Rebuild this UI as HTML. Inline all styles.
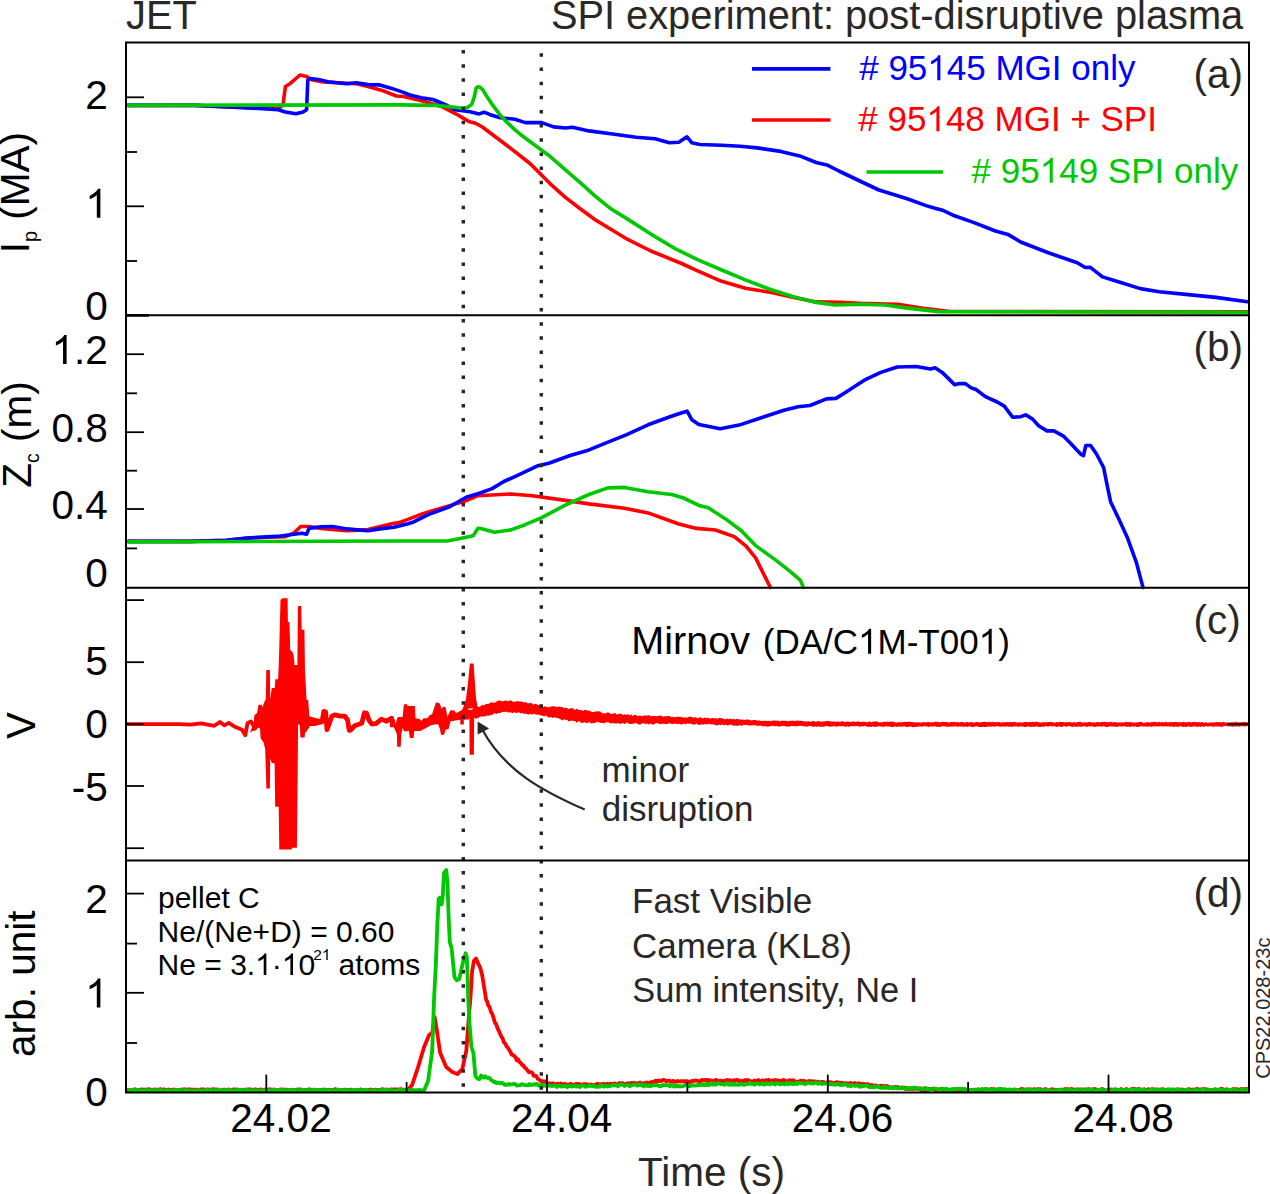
<!DOCTYPE html>
<html><head><meta charset="utf-8"><style>
html,body{margin:0;padding:0;background:#fff;overflow:hidden;width:1270px;height:1194px;}
svg{display:block;}
text{font-family:"Liberation Sans",sans-serif;}
</style></head><body>
<svg width="1270" height="1194" viewBox="0 0 1270 1194">
<rect width="1270" height="1194" fill="#fff"/>
<polyline points="128.0,105.4 195.6,105.4 240.0,107.5 278.3,108.5 283.0,105.0 285.4,86.5 290.0,83.7 300.0,75.0 306.6,76.6 311.4,79.7 323.2,82.0 356.2,83.7 368.0,86.5 384.6,91.3 396.4,96.0 403.5,96.5 423.6,101.3 442.5,106.8 456.7,114.3 468.5,121.4 475.6,123.3 482.7,127.3 506.3,145.0 530.0,163.5 550.0,183.6 565.1,197.1 580.2,208.7 595.2,219.7 610.0,228.8 627.2,239.2 650.9,251.0 681.6,263.5 698.1,271.2 721.7,281.3 745.4,288.2 773.7,292.9 792.6,297.2 816.2,301.9 839.9,302.4 860.0,303.4 897.8,304.3 923.0,308.4 948.2,311.3 1248.0,311.9" fill="none" stroke="#ff0000" stroke-width="3.6" stroke-linejoin="round" stroke-linecap="round"/>
<polyline points="128.0,105.4 195.6,105.4 240.0,107.5 278.3,109.7 285.4,112.0 296.0,113.7 303.0,112.0 306.6,109.7 307.8,80.2 310.0,78.5 318.4,79.5 327.9,81.8 346.8,83.7 356.2,82.8 368.0,84.6 379.9,84.9 391.7,88.4 403.5,92.4 410.0,95.0 421.3,97.8 433.0,99.5 447.2,105.5 455.0,109.7 470.1,111.7 479.1,113.9 484.1,112.2 490.2,114.7 500.2,117.7 515.0,119.2 525.2,122.6 541.7,122.6 553.6,126.9 565.4,128.0 572.5,127.3 589.0,130.9 612.6,134.0 636.2,137.2 655.1,138.7 669.3,142.7 678.8,142.2 687.0,136.8 691.7,142.7 700.0,144.5 721.7,145.3 740.0,146.3 757.2,147.9 780.8,151.4 799.7,155.9 816.2,162.5 826.9,164.9 839.9,171.5 858.8,180.5 878.9,190.0 907.2,198.8 926.1,205.6 935.0,208.3 943.5,210.6 954.5,215.8 973.4,222.4 995.4,231.0 1008.0,234.4 1020.6,242.0 1049.0,253.0 1077.3,262.8 1085.2,267.5 1090.0,267.2 1102.5,276.9 1118.3,281.7 1140.3,288.6 1159.2,291.7 1190.7,294.9 1215.9,297.4 1247.4,301.8" fill="none" stroke="#0000ff" stroke-width="3.6" stroke-linejoin="round" stroke-linecap="round"/>
<polyline points="128.0,105.4 400.0,104.9 435.4,105.4 455.0,107.2 462.5,108.4 467.6,107.2 471.6,104.6 474.1,97.6 476.1,88.1 477.6,86.8 480.1,87.3 483.1,90.1 487.2,97.1 492.7,105.2 500.2,115.2 507.8,123.2 515.0,129.8 520.2,134.2 530.2,141.7 540.3,149.2 550.0,156.3 566.6,170.8 580.2,182.6 595.2,196.1 610.0,208.2 627.2,218.9 650.9,234.1 674.5,248.3 698.1,259.9 721.7,270.0 745.4,279.9 769.0,288.9 792.6,296.5 816.2,302.4 835.1,305.0 860.0,304.3 885.2,305.0 907.2,308.1 938.7,311.6 1248.0,312.2" fill="none" stroke="#00c800" stroke-width="3.6" stroke-linejoin="round" stroke-linecap="round"/>
<polyline points="128.3,541.4 190.9,541.4 226.3,540.2 249.9,537.9 285.4,536.7 293.6,533.2 300.7,526.5 309.0,526.5 320.8,528.4 346.8,530.8 368.0,529.6 391.7,523.7 400.0,522.4 423.6,513.4 449.6,505.6 463.8,501.6 478.0,495.7 511.0,494.0 532.3,495.7 565.4,500.4 589.0,503.9 624.4,508.2 648.0,512.9 678.8,524.0 696.5,528.4 715.4,530.0 734.3,536.6 746.1,546.1 755.6,557.9 769.8,586.2 770.5,587.5" fill="none" stroke="#ff0000" stroke-width="3.6" stroke-linejoin="round" stroke-linecap="round"/>
<polyline points="128.3,541.4 190.9,541.4 226.3,540.2 249.9,537.9 280.6,536.0 301.9,533.2 306.6,534.3 309.0,528.4 320.8,526.8 332.6,526.5 346.8,528.9 368.0,530.8 379.9,528.9 394.0,527.2 408.2,523.7 414.2,521.7 428.3,514.6 449.6,506.8 466.1,497.3 478.0,493.8 492.1,488.6 503.9,481.5 518.1,475.1 537.0,466.1 548.8,463.3 570.1,455.5 586.6,450.8 605.5,443.2 626.8,434.7 648.0,424.8 669.3,417.0 681.1,413.0 687.1,411.2 691.8,419.7 698.9,424.4 720.2,428.7 739.1,425.1 762.7,417.3 783.9,410.2 798.1,406.7 809.9,405.5 826.5,398.9 835.9,398.4 845.4,392.5 864.3,380.2 880.8,372.4 897.3,367.0 916.2,366.5 930.4,368.9 935.1,367.7 942.2,372.4 950.0,380.1 954.7,384.8 959.4,383.6 965.4,383.6 971.3,387.9 976.0,389.5 985.4,396.6 997.2,402.0 1004.3,406.1 1012.6,417.2 1020.9,416.7 1025.6,414.8 1032.7,419.1 1038.6,425.7 1046.9,430.9 1053.9,430.9 1063.4,436.1 1070.5,443.2 1081.1,454.5 1083.5,455.7 1085.8,445.5 1090.6,445.5 1096.5,454.0 1103.6,467.5 1107.1,485.2 1110.6,501.7 1120.1,521.8 1127.2,537.2 1136.6,563.2 1142.5,585.6 1143.0,587.5" fill="none" stroke="#0000ff" stroke-width="3.6" stroke-linejoin="round" stroke-linecap="round"/>
<polyline points="128.3,541.9 400.0,541.0 447.2,541.0 461.4,538.2 473.2,535.8 478.0,528.3 481.5,528.7 494.5,532.3 511.0,529.9 525.2,524.7 541.7,517.6 565.4,505.1 589.0,494.5 607.9,487.9 624.4,487.4 648.0,491.7 671.7,494.5 683.5,498.0 700.0,505.8 708.3,507.8 727.2,520.1 741.4,530.7 755.6,545.6 774.5,559.1 791.0,572.1 800.5,580.3 802.8,586.2 803.2,587.5" fill="none" stroke="#00c800" stroke-width="3.6" stroke-linejoin="round" stroke-linecap="round"/>
<polyline points="127.0,724.2 179.1,724.2 190.2,724.7 201.2,723.3 214.4,725.8 219.9,722.0 224.3,725.3 228.7,722.9 234.3,726.4 242.0,729.7 245.3,735.2 247.5,723.1 250.8,721.4 254.1,726.4" fill="none" stroke="#ff0000" stroke-width="3.8" stroke-linejoin="round" stroke-linecap="round"/>
<polygon points="253.8,722.0 254.4,715.2 257.1,713.0 258.5,704.8 261.8,704.8 262.5,707.6 263.6,703.8 265.8,698.9 266.3,670.0 269.9,670.0 270.1,698.9 271.8,688.0 274.8,688.0 275.3,679.3 278.1,679.3 278.8,664.0 279.4,642.3 280.5,599.8 282.7,598.2 287.6,598.2 287.9,622.1 289.4,622.1 290.3,650.4 291.9,651.0 293.5,654.2 294.6,665.1 297.4,665.1 297.9,606.1 301.2,606.1 301.7,629.7 304.4,629.7 305.0,671.6 306.6,700.0 308.2,700.0 309.3,716.3 315.3,717.9 320.0,719.0 320.0,724.1 315.7,725.9 309.8,725.9 308.6,728.8 305.7,729.4 304.5,737.6 300.4,737.6 299.8,725.3 298.1,724.1 297.5,790.3 296.9,847.8 292.2,847.8 291.6,849.6 279.3,849.6 278.7,806.8 275.2,806.8 274.6,763.4 271.7,762.8 270.2,758.7 269.9,788.6 266.4,788.6 265.2,749.3 263.5,742.3 260.6,738.2 260.0,728.2 258.2,727.6 255.9,730.6 252.3,731.1 250.0,732.9" fill="#ff0000"/>
<polyline points="305.0,729.7 307.1,721.9 312.1,721.9 317.8,722.6 322.0,721.9 323.8,711.3 325.6,712.0 327.0,729.7 329.1,724.0 331.9,716.2 334.8,714.8 340.4,716.2 344.7,716.2 347.5,719.8 349.3,730.4 351.1,729.7 354.6,725.8 361.7,723.3 364.5,712.7 366.7,713.4 368.8,719.8 371.6,724.0 375.9,723.7 381.5,719.1 386.5,721.2 391.5,718.3 393.0,722.0" fill="none" stroke="#ff0000" stroke-width="4.8" stroke-linejoin="round" stroke-linecap="round"/>
<polygon points="390.0,716.5 393.1,716.5 395.7,724.0 397.6,717.1 402.6,717.1 403.9,704.2 407.0,704.2 407.6,706.1 414.9,706.1 415.5,718.3 419.6,719.0 421.5,720.9 423.4,718.3 427.2,718.3 429.7,715.2 432.2,713.9 436.0,702.3 439.8,703.5 441.7,708.9 443.2,706.7 445.7,707.3 447.3,717.1 450.5,710.2 454.3,710.5 456.8,714.6 460.6,711.4 465.6,704.5 468.1,700.0 468.7,719.6 460.6,719.6 456.8,720.2 453.0,720.9 450.5,721.5 448.6,729.1 445.4,729.7 444.2,734.7 441.0,734.7 439.8,728.4 437.9,724.0 430.9,725.3 426.5,727.8 420.2,730.9 414.3,730.9 413.6,737.9 409.8,737.9 408.9,730.9 404.2,731.6 402.6,727.8 401.3,735.4 400.7,746.7 397.2,746.7 396.9,734.1 393.8,727.2 390.0,727.2" fill="#ff0000"/>
<polygon points="455.0,712.5 456.6,712.7 458.2,712.2 459.8,711.0 461.4,710.7 463.0,710.4 464.6,710.6 466.2,709.7 467.8,710.3 469.4,709.8 471.0,710.0 472.6,709.3 474.2,707.5 475.8,707.3 477.4,706.6 479.0,706.9 480.6,706.2 482.2,704.8 483.8,705.4 485.4,704.2 487.0,704.0 488.6,704.0 490.2,702.5 491.8,702.5 493.4,702.5 495.0,702.7 496.6,701.4 498.2,700.7 499.8,700.3 501.4,701.3 503.0,701.3 504.6,700.7 506.2,700.5 507.8,701.2 509.4,700.8 511.0,700.3 512.6,701.5 514.2,702.1 515.8,701.5 517.4,701.1 519.0,701.5 520.6,701.5 522.2,701.8 523.8,702.4 525.4,702.0 527.0,703.0 528.6,703.6 530.2,702.8 531.8,703.3 533.4,704.8 535.0,703.7 536.6,704.2 538.2,705.2 539.8,704.5 541.4,705.5 543.0,707.0 544.6,706.3 546.2,706.7 547.8,707.3 549.4,707.3 551.0,706.6 552.6,706.2 554.2,706.3 555.8,706.7 557.4,707.0 559.0,706.6 560.6,706.9 562.2,706.9 563.8,708.1 565.4,707.7 567.0,708.1 568.6,709.1 570.2,708.6 571.8,708.1 573.4,708.8 575.0,709.9 576.6,708.6 578.2,709.7 579.8,709.9 581.4,710.1 583.0,710.9 584.6,709.9 586.2,710.0 587.8,710.8 589.4,710.6 591.0,711.7 592.6,711.9 594.2,712.0 595.8,711.2 597.4,711.6 599.0,711.2 600.6,711.8 602.2,713.2 603.8,713.3 605.4,713.6 607.0,712.4 608.6,712.5 610.2,713.4 611.8,713.9 613.4,713.7 615.0,712.8 616.6,714.4 618.2,714.3 619.8,713.4 621.4,713.8 623.0,715.1 624.6,714.2 626.2,714.9 627.8,714.0 629.4,715.5 631.0,714.3 632.6,715.9 634.2,714.9 635.8,714.7 637.4,716.3 639.0,715.7 640.6,715.6 642.2,716.3 643.8,715.4 645.4,715.4 647.0,715.5 648.6,715.3 650.2,715.7 651.8,716.2 653.4,715.9 655.0,716.1 656.6,716.2 658.2,716.1 659.8,715.4 661.4,715.8 663.0,716.7 664.6,716.1 666.2,716.5 667.8,715.9 669.4,716.1 671.0,717.0 672.6,716.7 674.2,717.3 675.8,716.9 677.4,716.8 679.0,716.7 680.6,716.8 682.2,717.2 683.8,717.7 685.4,717.2 687.0,717.7 688.6,716.7 690.2,716.7 691.8,716.7 693.4,717.9 695.0,717.0 696.6,717.8 698.2,718.2 699.8,717.3 701.4,717.7 703.0,718.6 704.6,717.5 706.2,718.1 707.8,717.7 709.4,718.5 711.0,718.4 712.6,717.7 714.2,718.6 715.8,717.9 717.4,719.0 719.0,718.1 720.6,718.1 722.2,718.5 723.8,718.8 725.4,719.4 727.0,718.6 728.6,719.2 730.2,718.6 731.8,719.5 733.4,718.8 735.0,719.6 736.6,718.9 738.2,719.0 739.8,719.6 741.4,719.8 743.0,719.5 744.6,719.9 746.2,719.4 747.8,719.4 749.4,719.8 751.0,720.5 752.6,720.2 754.2,720.1 755.8,720.1 757.4,720.7 759.0,720.2 760.6,721.1 762.2,721.1 763.8,720.8 765.4,720.7 767.0,721.1 768.6,720.7 770.2,721.2 771.8,720.8 773.4,720.4 775.0,720.5 776.6,720.7 778.2,720.5 779.8,721.4 781.4,720.8 783.0,720.8 784.6,720.7 786.2,720.8 787.8,721.6 789.4,720.8 791.0,720.9 792.6,720.6 794.2,721.1 795.8,720.8 797.4,720.6 799.0,720.7 800.6,720.7 802.2,721.0 803.8,721.3 805.4,721.5 807.0,721.5 808.6,721.2 810.2,721.8 811.8,721.6 813.4,720.8 815.0,721.8 816.6,721.6 818.2,721.0 819.8,721.4 821.4,721.7 823.0,721.5 824.6,721.6 826.2,721.1 827.8,721.0 829.4,721.0 831.0,721.5 832.6,721.6 834.2,721.5 835.8,721.8 837.4,721.5 839.0,721.7 840.6,721.8 842.2,721.1 843.8,721.8 845.4,721.9 847.0,721.6 848.6,721.6 850.2,721.9 851.8,721.8 853.4,721.3 855.0,722.0 856.6,721.8 858.2,721.3 859.8,721.9 861.4,721.9 863.0,721.8 864.6,721.7 866.2,722.2 867.8,722.3 869.4,721.3 871.0,722.2 872.6,721.8 874.2,721.6 875.8,721.6 877.4,721.5 879.0,722.4 880.6,722.3 882.2,722.3 883.8,721.7 885.4,722.0 887.0,721.5 888.6,721.9 890.2,721.6 891.8,721.8 893.4,721.5 895.0,722.4 896.6,722.5 898.2,722.5 899.8,722.0 901.4,722.6 903.0,722.0 904.6,721.9 906.2,721.7 907.8,721.9 909.4,721.8 911.0,722.1 912.6,722.0 914.2,722.5 915.8,722.2 917.4,722.6 919.0,722.3 920.6,722.4 922.2,722.4 923.8,721.9 925.4,722.6 927.0,722.1 928.6,721.9 930.2,722.6 931.8,722.3 933.4,722.2 935.0,721.8 936.6,721.8 938.2,722.1 939.8,722.5 941.4,722.1 943.0,721.8 944.6,722.0 946.2,721.9 947.8,722.2 949.4,722.4 951.0,722.0 952.6,722.0 954.2,721.7 955.8,722.6 957.4,722.1 959.0,722.5 960.6,721.9 962.2,722.0 963.8,722.6 965.4,722.5 967.0,721.7 968.6,722.5 970.2,722.2 971.8,722.0 973.4,722.5 975.0,722.6 976.6,721.7 978.2,722.2 979.8,722.6 981.4,722.3 983.0,722.1 984.6,721.7 986.2,721.9 987.8,722.3 989.4,721.8 991.0,722.3 992.6,721.8 994.2,722.2 995.8,722.0 997.4,722.3 999.0,722.0 1000.6,722.6 1002.2,722.5 1003.8,721.9 1005.4,722.6 1007.0,722.0 1008.6,722.2 1010.2,722.1 1011.8,722.3 1013.4,721.9 1015.0,722.0 1016.6,722.4 1018.2,722.5 1019.8,722.2 1021.4,722.6 1023.0,722.5 1024.6,721.9 1026.2,722.0 1027.8,722.2 1029.4,721.9 1031.0,722.3 1032.6,721.8 1034.2,721.9 1035.8,721.8 1037.4,721.7 1039.0,722.6 1040.6,722.4 1042.2,722.6 1043.8,721.9 1045.4,722.4 1047.0,722.3 1048.6,722.1 1050.2,721.9 1051.8,722.0 1053.4,722.6 1055.0,722.7 1056.6,722.0 1058.2,722.5 1059.8,721.7 1061.4,722.1 1063.0,721.9 1064.6,722.6 1066.2,722.1 1067.8,722.5 1069.4,721.7 1071.0,722.6 1072.6,722.4 1074.2,722.0 1075.8,722.7 1077.4,722.0 1079.0,722.0 1080.6,721.7 1082.2,722.6 1083.8,722.6 1085.4,721.9 1087.0,722.7 1088.6,722.1 1090.2,722.1 1091.8,722.6 1093.4,722.5 1095.0,722.5 1096.6,722.3 1098.2,722.0 1099.8,722.5 1101.4,721.9 1103.0,722.0 1104.6,721.8 1106.2,722.0 1107.8,722.6 1109.4,722.0 1111.0,721.8 1112.6,722.4 1114.2,722.0 1115.8,722.3 1117.4,722.5 1119.0,722.4 1120.6,722.6 1122.2,722.3 1123.8,722.5 1125.4,722.0 1127.0,721.9 1128.6,722.3 1130.2,722.1 1131.8,722.2 1133.4,722.5 1135.0,722.7 1136.6,722.2 1138.2,722.6 1139.8,721.8 1141.4,721.9 1143.0,722.7 1144.6,722.7 1146.2,722.6 1147.8,722.0 1149.4,722.7 1151.0,722.3 1152.6,722.0 1154.2,721.9 1155.8,722.0 1157.4,722.4 1159.0,721.8 1160.6,722.4 1162.2,722.1 1163.8,722.5 1165.4,721.8 1167.0,722.2 1168.6,722.4 1170.2,721.9 1171.8,722.2 1173.4,722.1 1175.0,722.1 1176.6,722.1 1178.2,722.6 1179.8,722.1 1181.4,722.5 1183.0,721.8 1184.6,722.2 1186.2,722.2 1187.8,722.2 1189.4,721.8 1191.0,722.4 1192.6,721.9 1194.2,722.1 1195.8,721.9 1197.4,722.3 1199.0,721.9 1200.6,722.6 1202.2,722.0 1203.8,722.7 1205.4,722.3 1207.0,722.7 1208.6,722.7 1210.2,722.6 1211.8,722.6 1213.4,722.2 1215.0,722.6 1216.6,722.0 1218.2,722.3 1219.8,721.9 1221.4,722.5 1223.0,721.8 1224.6,722.5 1226.2,722.6 1227.8,722.4 1229.4,722.4 1231.0,722.2 1232.6,722.2 1234.2,722.2 1235.8,721.8 1237.4,722.3 1239.0,722.5 1240.6,722.3 1242.2,722.3 1243.8,721.9 1245.4,721.9 1247.0,722.3 1248.6,722.4 1248.6,726.1 1247.0,726.1 1245.4,726.4 1243.8,726.4 1242.2,726.1 1240.6,726.2 1239.0,726.8 1237.4,726.3 1235.8,726.6 1234.2,726.4 1232.6,726.7 1231.0,726.6 1229.4,726.3 1227.8,726.6 1226.2,726.1 1224.6,726.1 1223.0,726.6 1221.4,726.9 1219.8,726.3 1218.2,726.4 1216.6,726.4 1215.0,726.2 1213.4,726.9 1211.8,726.3 1210.2,726.2 1208.6,726.6 1207.0,726.4 1205.4,726.1 1203.8,727.0 1202.2,726.2 1200.6,727.0 1199.0,726.5 1197.4,726.9 1195.8,726.3 1194.2,726.5 1192.6,726.6 1191.0,726.9 1189.4,726.6 1187.8,726.2 1186.2,726.9 1184.6,726.8 1183.0,726.9 1181.4,726.3 1179.8,726.2 1178.2,727.0 1176.6,726.5 1175.0,726.6 1173.4,727.0 1171.8,726.3 1170.2,726.7 1168.6,726.2 1167.0,726.6 1165.4,726.2 1163.8,726.6 1162.2,726.3 1160.6,726.2 1159.0,726.4 1157.4,726.3 1155.8,726.6 1154.2,726.3 1152.6,726.4 1151.0,726.7 1149.4,726.2 1147.8,726.8 1146.2,726.5 1144.6,726.4 1143.0,726.6 1141.4,726.3 1139.8,726.4 1138.2,727.0 1136.6,726.9 1135.0,726.2 1133.4,726.7 1131.8,726.3 1130.2,727.0 1128.6,726.4 1127.0,726.9 1125.4,726.3 1123.8,726.3 1122.2,726.4 1120.6,726.4 1119.0,726.2 1117.4,726.9 1115.8,726.7 1114.2,726.5 1112.6,726.5 1111.0,726.6 1109.4,726.2 1107.8,727.1 1106.2,727.1 1104.6,726.6 1103.0,726.2 1101.4,726.8 1099.8,726.2 1098.2,726.5 1096.6,726.4 1095.0,726.9 1093.4,726.8 1091.8,726.3 1090.2,726.6 1088.6,726.3 1087.0,727.0 1085.4,726.6 1083.8,726.1 1082.2,726.7 1080.6,726.8 1079.0,726.4 1077.4,726.8 1075.8,726.7 1074.2,726.4 1072.6,727.0 1071.0,726.4 1069.4,726.2 1067.8,726.1 1066.2,726.9 1064.6,726.1 1063.0,726.5 1061.4,727.0 1059.8,726.6 1058.2,726.5 1056.6,726.9 1055.0,726.3 1053.4,726.2 1051.8,726.5 1050.2,726.1 1048.6,726.4 1047.0,726.5 1045.4,726.1 1043.8,727.1 1042.2,726.4 1040.6,727.1 1039.0,727.0 1037.4,726.5 1035.8,726.2 1034.2,727.1 1032.6,726.5 1031.0,727.1 1029.4,726.5 1027.8,726.3 1026.2,727.1 1024.6,726.9 1023.0,726.4 1021.4,726.4 1019.8,726.3 1018.2,726.9 1016.6,726.3 1015.0,726.6 1013.4,726.2 1011.8,727.1 1010.2,726.4 1008.6,726.8 1007.0,726.2 1005.4,726.8 1003.8,726.4 1002.2,726.6 1000.6,726.8 999.0,726.6 997.4,726.1 995.8,726.4 994.2,726.7 992.6,726.2 991.0,726.8 989.4,726.4 987.8,726.5 986.2,727.1 984.6,726.9 983.0,726.7 981.4,726.9 979.8,726.9 978.2,726.8 976.6,726.3 975.0,726.4 973.4,727.0 971.8,727.1 970.2,726.2 968.6,726.6 967.0,726.9 965.4,726.2 963.8,727.0 962.2,726.6 960.6,726.4 959.0,726.4 957.4,726.8 955.8,726.3 954.2,726.4 952.6,726.5 951.0,726.7 949.4,726.6 947.8,727.1 946.2,726.4 944.6,726.3 943.0,726.3 941.4,726.3 939.8,727.2 938.2,726.4 936.6,727.1 935.0,726.3 933.4,726.6 931.8,726.5 930.2,726.4 928.6,726.9 927.0,726.5 925.4,726.3 923.8,726.2 922.2,726.8 920.6,726.6 919.0,726.2 917.4,726.7 915.8,727.1 914.2,727.0 912.6,727.2 911.0,726.4 909.4,726.5 907.8,727.1 906.2,727.0 904.6,726.2 903.0,726.6 901.4,726.8 899.8,726.6 898.2,726.5 896.6,726.9 895.0,726.3 893.4,726.9 891.8,727.0 890.2,726.5 888.6,726.4 887.0,726.6 885.4,726.1 883.8,727.0 882.2,726.8 880.6,726.6 879.0,726.2 877.4,726.6 875.8,726.7 874.2,727.1 872.6,726.3 871.0,727.1 869.4,726.5 867.8,727.0 866.2,726.2 864.6,726.1 863.0,726.5 861.4,726.3 859.8,726.7 858.2,726.3 856.6,726.0 855.0,726.3 853.4,726.2 851.8,726.0 850.2,726.6 848.6,726.7 847.0,726.3 845.4,727.0 843.8,726.1 842.2,726.2 840.6,726.2 839.0,725.9 837.4,726.5 835.8,726.7 834.2,725.9 832.6,726.6 831.0,726.5 829.4,726.8 827.8,726.2 826.2,725.8 824.6,726.6 823.0,726.8 821.4,726.7 819.8,726.7 818.2,726.4 816.6,726.7 815.0,726.5 813.4,726.7 811.8,726.5 810.2,725.9 808.6,726.1 807.0,726.7 805.4,726.5 803.8,726.3 802.2,726.0 800.6,725.7 799.0,726.1 797.4,726.0 795.8,726.2 794.2,726.2 792.6,726.1 791.0,726.0 789.4,726.7 787.8,726.2 786.2,726.7 784.6,726.1 783.0,726.1 781.4,725.9 779.8,726.4 778.2,726.5 776.6,725.8 775.0,726.4 773.4,725.7 771.8,725.9 770.2,726.3 768.6,726.5 767.0,726.7 765.4,726.1 763.8,726.4 762.2,725.9 760.6,725.5 759.0,725.8 757.4,725.9 755.8,725.2 754.2,725.2 752.6,725.3 751.0,725.4 749.4,725.4 747.8,725.2 746.2,725.1 744.6,725.1 743.0,725.0 741.4,725.9 739.8,725.1 738.2,725.8 736.6,725.7 735.0,725.6 733.4,725.7 731.8,725.0 730.2,724.5 728.6,725.3 727.0,725.5 725.4,724.6 723.8,725.4 722.2,724.3 720.6,725.2 719.0,724.4 717.4,725.4 715.8,725.3 714.2,724.6 712.6,724.3 711.0,724.4 709.4,723.8 707.8,724.2 706.2,724.2 704.6,724.2 703.0,724.8 701.4,724.2 699.8,724.9 698.2,724.8 696.6,723.6 695.0,724.4 693.4,724.6 691.8,724.2 690.2,723.6 688.6,723.8 687.0,723.3 685.4,724.5 683.8,723.4 682.2,724.3 680.6,724.4 679.0,723.8 677.4,724.0 675.8,723.7 674.2,723.6 672.6,724.1 671.0,723.7 669.4,723.3 667.8,723.8 666.2,724.2 664.6,723.7 663.0,723.8 661.4,723.7 659.8,724.2 658.2,723.2 656.6,722.9 655.0,723.8 653.4,724.4 651.8,724.4 650.2,723.6 648.6,724.4 647.0,723.6 645.4,723.9 643.8,723.3 642.2,723.2 640.6,724.4 639.0,724.5 637.4,723.9 635.8,722.7 634.2,723.6 632.6,723.8 631.0,724.0 629.4,724.0 627.8,722.7 626.2,722.7 624.6,724.1 623.0,723.1 621.4,723.7 619.8,723.7 618.2,723.1 616.6,723.6 615.0,723.3 613.4,723.5 611.8,722.9 610.2,723.6 608.6,722.3 607.0,722.3 605.4,722.5 603.8,723.6 602.2,722.7 600.6,723.1 599.0,722.3 597.4,721.8 595.8,722.7 594.2,723.1 592.6,723.2 591.0,723.5 589.4,722.1 587.8,723.0 586.2,723.0 584.6,722.3 583.0,722.8 581.4,723.3 579.8,721.5 578.2,721.4 576.6,722.7 575.0,721.0 573.4,720.9 571.8,720.4 570.2,720.9 568.6,721.6 567.0,719.8 565.4,719.9 563.8,719.3 562.2,720.4 560.6,719.2 559.0,718.5 557.4,717.9 555.8,717.8 554.2,717.3 552.6,717.9 551.0,717.2 549.4,717.6 547.8,717.2 546.2,715.5 544.6,716.2 543.0,716.0 541.4,715.6 539.8,715.1 538.2,714.6 536.6,714.8 535.0,714.1 533.4,713.7 531.8,714.8 530.2,713.8 528.6,714.4 527.0,714.3 525.4,713.4 523.8,714.0 522.2,712.7 520.6,713.5 519.0,712.2 517.4,712.7 515.8,712.9 514.2,712.1 512.6,713.2 511.0,712.5 509.4,712.3 507.8,712.6 506.2,711.6 504.6,711.9 503.0,711.7 501.4,712.5 499.8,713.1 498.2,713.1 496.6,714.0 495.0,713.2 493.4,713.8 491.8,715.3 490.2,715.1 488.6,715.7 487.0,715.4 485.4,716.3 483.8,716.4 482.2,716.4 480.6,716.6 479.0,717.5 477.4,718.2 475.8,718.7 474.2,717.5 472.6,718.0 471.0,717.6 469.4,718.4 467.8,719.6 466.2,718.5 464.6,719.8 463.0,718.7 461.4,719.5 459.8,719.8 458.2,719.7 456.6,719.4 455.0,719.7" fill="#ff0000"/>
<polygon points="462.9,708.5 466.0,699.0 468.2,681.4 469.8,663.4 473.6,663.4 474.8,681.4 476.1,699.0 477.9,708.5" fill="#ff0000"/>
<polygon points="469.4,712.0 469.6,754.8 473.9,754.8 474.2,712.0" fill="#ff0000"/>
<polygon points="460.3,716.0 460.3,724.5 463.8,724.5 463.8,716.0" fill="#ff0000"/>
<polyline points="127.0,1089.9 128.3,1090.1 129.6,1090.2 130.9,1090.3 132.2,1090.1 133.5,1090.3 134.8,1089.2 136.1,1089.8 137.4,1090.3 138.7,1090.0 140.0,1090.3 141.3,1089.3 142.6,1089.8 143.9,1089.5 145.2,1089.9 146.5,1089.9 147.8,1089.2 149.1,1089.5 150.4,1089.5 151.7,1090.3 153.0,1090.1 154.3,1089.4 155.6,1090.2 156.9,1089.4 158.2,1089.9 159.5,1089.4 160.8,1089.2 162.1,1090.2 163.4,1089.5 164.7,1089.5 166.0,1090.4 167.3,1090.2 168.6,1089.5 169.9,1090.4 171.2,1089.8 172.5,1090.0 173.8,1089.4 175.1,1090.3 176.4,1090.0 177.7,1090.4 179.0,1090.3 180.3,1089.6 181.6,1089.6 182.9,1089.4 184.2,1089.4 185.5,1089.3 186.8,1089.6 188.1,1089.9 189.4,1089.2 190.7,1090.0 192.0,1089.6 193.3,1089.6 194.6,1090.2 195.9,1089.8 197.2,1089.6 198.5,1089.8 199.8,1090.0 201.1,1089.3 202.4,1090.4 203.7,1089.2 205.0,1090.1 206.3,1090.2 207.6,1089.2 208.9,1090.1 210.2,1089.6 211.5,1089.9 212.8,1089.2 214.1,1089.3 215.4,1089.4 216.7,1090.3 218.0,1089.4 219.3,1090.1 220.6,1090.3 221.9,1090.3 223.2,1089.6 224.5,1089.6 225.8,1089.8 227.1,1090.1 228.4,1089.3 229.7,1090.1 231.0,1090.2 232.3,1090.2 233.6,1089.2 234.9,1090.3 236.2,1089.3 237.5,1089.6 238.8,1089.9 240.1,1090.3 241.4,1089.6 242.7,1090.3 244.0,1089.9 245.3,1089.6 246.6,1089.6 247.9,1089.4 249.2,1089.3 250.5,1089.4 251.8,1090.0 253.1,1090.4 254.4,1089.4 255.7,1089.3 257.0,1090.4 258.3,1089.8 259.6,1089.7 260.9,1089.5 262.2,1089.9 263.5,1090.2 264.8,1089.7 266.1,1089.7 267.4,1089.3 268.7,1090.3 270.0,1089.2 271.3,1089.8 272.6,1090.2 273.9,1089.4 275.2,1090.1 276.5,1090.3 277.8,1090.0 279.1,1090.1 280.4,1089.3 281.7,1089.7 283.0,1089.4 284.3,1090.2 285.6,1089.6 286.9,1089.7 288.2,1090.4 289.5,1090.2 290.8,1090.4 292.1,1089.7 293.4,1089.8 294.7,1090.1 296.0,1089.8 297.3,1089.5 298.6,1089.7 299.9,1089.4 301.2,1089.7 302.5,1090.4 303.8,1090.4 305.1,1090.0 306.4,1089.8 307.7,1089.6 309.0,1089.3 310.3,1089.5 311.6,1090.1 312.9,1090.2 314.2,1089.6 315.5,1090.1 316.8,1090.1 318.1,1090.0 319.4,1090.0 320.7,1090.1 322.0,1089.6 323.3,1090.0 324.6,1089.5 325.9,1089.8 327.2,1090.1 328.5,1090.0 329.8,1089.6 331.1,1090.3 332.4,1090.0 333.7,1089.9 335.0,1089.2 336.3,1089.9 337.6,1089.5 338.9,1090.0 340.2,1089.8 341.5,1090.2 342.8,1090.0 344.1,1090.2 345.4,1089.6 346.7,1090.0 348.0,1090.1 349.3,1090.2 350.6,1089.6 351.9,1090.2 353.2,1090.2 354.5,1090.0 355.8,1090.4 357.1,1090.3 358.4,1089.8 359.7,1089.8 361.0,1089.4 362.3,1090.2 363.6,1090.3 364.9,1089.8 366.2,1090.0 367.5,1090.1 368.8,1090.1 370.1,1089.4 371.4,1090.1 372.7,1089.9 374.0,1090.0 375.3,1089.7 376.6,1089.9 377.9,1090.1 379.2,1090.0 380.5,1090.1 381.8,1089.2 383.1,1089.4 384.4,1089.7 385.7,1090.0 387.0,1089.5 388.3,1090.0 389.6,1090.0 390.9,1089.3 392.2,1089.8 393.5,1089.5 394.8,1089.3 396.1,1089.4 397.4,1089.6 398.7,1089.4 400.0,1089.4 401.3,1089.2 402.6,1089.8 403.9,1089.7 405.2,1089.9 406.5,1089.9 408.0,1089.8 412.1,1085.1 418.1,1067.0 424.1,1047.0 429.1,1034.9 432.2,1032.9 434.6,1016.8 437.2,1032.9 440.2,1053.0 446.2,1067.0 452.3,1072.1 457.3,1074.1 462.3,1069.0 466.3,1051.0 469.3,1010.8 470.3,1000.0 472.1,971.4 473.9,960.8 476.0,958.5 478.0,963.2 480.3,967.9 482.1,974.9 484.4,989.0 486.2,1000.0 487.0,1001.1 488.3,1005.5 489.6,1007.0 490.9,1011.7 492.2,1013.8 493.5,1017.6 494.8,1022.6 496.1,1023.9 497.4,1027.9 498.7,1030.6 500.0,1033.6 501.3,1036.5 502.6,1038.4 503.9,1042.4 505.2,1043.4 506.5,1046.3 507.8,1047.6 509.1,1049.8 510.4,1051.9 511.7,1054.7 513.0,1055.1 514.3,1055.9 515.6,1057.5 516.9,1060.4 518.2,1059.6 519.5,1062.2 520.8,1062.9 522.1,1064.9 523.4,1065.5 524.7,1067.6 526.0,1068.5 527.3,1070.1 528.6,1072.0 529.9,1072.2 531.2,1072.2 532.5,1073.0 533.8,1075.9 535.1,1075.9 536.4,1076.2 537.7,1079.0 539.0,1079.5 540.0,1080.2 541.3,1081.2 542.6,1081.1 543.9,1081.3 545.2,1081.4 546.5,1083.1 547.8,1083.3 549.1,1083.9 550.4,1083.3 551.7,1084.1 553.0,1083.2 554.3,1084.2 555.6,1084.2 556.9,1083.7 558.2,1083.9 559.5,1084.3 560.8,1083.4 562.1,1084.2 563.4,1084.7 564.7,1083.8 566.0,1084.8 567.3,1084.6 568.6,1085.0 569.9,1084.1 571.2,1083.8 572.5,1085.0 573.8,1085.0 575.1,1084.4 576.4,1083.8 577.7,1084.0 579.0,1084.7 580.3,1084.1 581.6,1085.3 582.9,1084.7 584.2,1084.0 585.5,1084.8 586.8,1084.2 588.1,1085.3 589.4,1085.2 590.7,1084.5 592.0,1084.8 593.3,1084.9 594.6,1085.0 595.9,1085.4 597.2,1083.7 598.5,1084.3 599.8,1084.7 601.1,1084.1 602.4,1084.7 603.7,1083.7 605.0,1085.1 606.3,1084.4 607.6,1083.7 608.9,1084.6 610.2,1083.9 611.5,1083.7 612.8,1084.2 614.1,1083.5 615.4,1083.6 616.7,1084.7 618.0,1084.4 619.3,1083.1 620.6,1084.4 621.9,1083.0 623.2,1083.6 624.5,1084.5 625.8,1084.0 627.1,1083.4 628.4,1083.5 629.7,1083.5 631.0,1082.9 632.3,1084.5 633.6,1082.7 634.9,1083.3 636.2,1083.8 637.5,1083.1 638.8,1084.0 640.1,1082.6 641.4,1083.8 642.7,1083.6 644.0,1083.1 645.3,1083.4 646.6,1082.5 647.9,1083.1 649.2,1082.9 650.5,1082.3 651.8,1082.0 653.1,1082.2 654.4,1081.4 655.7,1080.6 657.0,1081.6 658.3,1080.5 659.6,1080.7 660.9,1081.3 662.2,1080.2 663.5,1080.0 664.8,1080.2 666.1,1081.1 667.4,1080.8 668.7,1080.6 670.0,1081.0 671.3,1081.9 672.6,1080.8 673.9,1081.1 675.2,1082.0 676.5,1081.6 677.8,1081.0 679.1,1081.4 680.4,1081.5 681.7,1081.0 683.0,1081.3 684.3,1081.1 685.6,1081.9 686.9,1081.0 688.2,1081.5 689.5,1082.0 690.8,1081.8 692.1,1080.8 693.4,1081.1 694.7,1080.5 696.0,1080.6 697.3,1080.7 698.6,1081.2 699.9,1081.5 701.2,1080.3 702.5,1079.8 703.8,1080.6 705.1,1079.9 706.4,1079.9 707.7,1081.2 709.0,1080.0 710.3,1081.1 711.6,1080.5 712.9,1081.5 714.2,1081.3 715.5,1079.9 716.8,1080.1 718.1,1081.5 719.4,1080.9 720.7,1080.6 722.0,1081.2 723.3,1081.3 724.6,1080.7 725.9,1080.6 727.2,1080.0 728.5,1080.5 729.8,1080.1 731.1,1080.9 732.4,1080.9 733.7,1080.1 735.0,1080.9 736.3,1080.0 737.6,1080.0 738.9,1081.0 740.2,1080.6 741.5,1081.4 742.8,1080.9 744.1,1081.0 745.4,1080.0 746.7,1081.2 748.0,1079.9 749.3,1080.8 750.6,1081.4 751.9,1081.3 753.2,1081.3 754.5,1080.5 755.8,1080.9 757.1,1081.1 758.4,1079.9 759.7,1081.4 761.0,1081.3 762.3,1080.4 763.6,1081.0 764.9,1080.4 766.2,1080.1 767.5,1080.9 768.8,1079.8 770.1,1081.1 771.4,1081.5 772.7,1080.2 774.0,1081.4 775.3,1079.9 776.6,1081.4 777.9,1080.3 779.2,1081.6 780.5,1080.7 781.8,1081.6 783.1,1080.0 784.4,1080.1 785.7,1081.5 787.0,1081.2 788.3,1081.0 789.6,1080.1 790.9,1080.4 792.2,1080.8 793.5,1080.3 794.8,1082.0 796.1,1081.6 797.4,1082.0 798.7,1081.6 800.0,1081.1 801.3,1080.6 802.6,1081.9 803.9,1080.8 805.2,1081.7 806.5,1081.6 807.8,1081.7 809.1,1081.0 810.4,1081.1 811.7,1082.0 813.0,1081.1 814.3,1082.1 815.6,1081.5 816.9,1081.8 818.2,1081.6 819.5,1082.4 820.8,1082.2 822.1,1081.9 823.4,1082.0 824.7,1082.6 826.0,1083.3 827.3,1082.4 828.6,1082.0 829.9,1082.3 831.2,1082.2 832.5,1082.8 833.8,1083.3 835.1,1082.9 836.4,1082.2 837.7,1082.5 839.0,1082.6 840.3,1082.8 841.6,1082.7 842.9,1083.8 844.2,1083.1 845.5,1083.3 846.8,1083.4 848.1,1083.3 849.4,1083.6 850.7,1082.9 852.0,1083.6 853.3,1084.3 854.6,1083.0 855.9,1083.9 857.2,1083.6 858.5,1083.2 859.8,1083.3 861.1,1084.7 862.4,1083.7 863.7,1084.9 865.0,1083.9 866.3,1084.5 867.6,1084.0 868.9,1085.1 870.2,1085.7 871.5,1084.8 872.8,1085.5 874.1,1086.3 875.4,1085.3 876.7,1085.8 878.0,1086.3 879.3,1086.7 880.6,1085.6 881.9,1086.6 883.2,1085.7 884.5,1085.8 885.8,1087.5 887.1,1085.9 888.4,1087.6 889.7,1087.4 891.0,1087.3 892.3,1087.5 893.6,1087.5 894.9,1086.9 896.2,1087.3 897.5,1087.0 898.8,1088.2 900.1,1088.2 901.4,1088.3 902.7,1087.4 904.0,1088.1 905.3,1087.6 906.6,1088.7 907.9,1088.7 909.2,1089.2 910.5,1088.8 911.8,1088.9 913.1,1089.1 914.4,1088.0 915.7,1089.0 917.0,1088.1 918.3,1088.8 919.6,1088.4 920.9,1090.0 922.2,1088.5 923.5,1090.2 924.8,1090.3 926.1,1089.5 927.4,1090.3 928.7,1089.0 930.0,1089.2 931.3,1088.9 932.6,1089.0 933.9,1088.9 935.2,1090.4 936.5,1089.1 937.8,1090.0 939.1,1089.4 940.4,1089.1 941.7,1089.7 943.0,1089.2 944.3,1090.7 945.6,1089.6 946.9,1090.0 948.2,1089.9 949.5,1090.0 950.8,1089.8 952.1,1089.4 953.4,1089.1 954.7,1090.5 956.0,1089.2 957.3,1089.7 958.6,1090.4 959.9,1089.9 961.2,1090.6 962.5,1090.4 963.8,1089.8 965.1,1089.1 966.4,1090.0 967.7,1089.8 969.0,1090.5 970.3,1089.9 971.6,1090.1 972.9,1090.4 974.2,1089.7 975.5,1090.4 976.8,1090.5 978.1,1089.2 979.4,1090.6 980.7,1090.5 982.0,1090.4 983.3,1089.5 984.6,1089.4 985.9,1089.1 987.2,1089.6 988.5,1090.4 989.8,1089.6 991.1,1088.9 992.4,1089.4 993.7,1089.0 995.0,1090.0 996.3,1090.3 997.6,1090.6 998.9,1089.1 1000.2,1089.6 1001.5,1089.1 1002.8,1090.5 1004.1,1090.4 1005.4,1089.8 1006.7,1090.6 1008.0,1089.8 1009.3,1090.3 1010.6,1089.8 1011.9,1089.6 1013.2,1090.7 1014.5,1090.4 1015.8,1090.0 1017.1,1090.5 1018.4,1090.1 1019.7,1090.3 1021.0,1089.0 1022.3,1089.1 1023.6,1089.1 1024.9,1090.0 1026.2,1090.2 1027.5,1089.2 1028.8,1089.8 1030.1,1089.1 1031.4,1090.1 1032.7,1090.3 1034.0,1089.1 1035.3,1090.7 1036.6,1090.1 1037.9,1089.1 1039.2,1089.5 1040.5,1089.2 1041.8,1090.2 1043.1,1090.6 1044.4,1089.2 1045.7,1089.2 1047.0,1090.0 1048.3,1090.4 1049.6,1090.2 1050.9,1089.7 1052.2,1089.1 1053.5,1090.0 1054.8,1089.7 1056.1,1090.3 1057.4,1089.9 1058.7,1090.2 1060.0,1090.6 1061.3,1090.0 1062.6,1090.5 1063.9,1089.4 1065.2,1088.9 1066.5,1090.5 1067.8,1089.0 1069.1,1090.7 1070.4,1089.7 1071.7,1089.0 1073.0,1089.4 1074.3,1090.2 1075.6,1089.6 1076.9,1090.0 1078.2,1089.1 1079.5,1090.4 1080.8,1089.6 1082.1,1090.4 1083.4,1089.2 1084.7,1090.1 1086.0,1089.7 1087.3,1089.6 1088.6,1088.9 1089.9,1089.9 1091.2,1090.4 1092.5,1089.1 1093.8,1089.7 1095.1,1088.9 1096.4,1090.7 1097.7,1090.6 1099.0,1090.1 1100.3,1089.8 1101.6,1089.0 1102.9,1089.1 1104.2,1090.2 1105.5,1090.3 1106.8,1090.7 1108.1,1090.5 1109.4,1089.7 1110.7,1089.4 1112.0,1089.9 1113.3,1089.5 1114.6,1089.9 1115.9,1090.5 1117.2,1089.7 1118.5,1090.7 1119.8,1090.2 1121.1,1089.0 1122.4,1090.2 1123.7,1090.1 1125.0,1090.0 1126.3,1088.9 1127.6,1090.5 1128.9,1089.8 1130.2,1089.9 1131.5,1089.2 1132.8,1089.0 1134.1,1088.9 1135.4,1089.3 1136.7,1089.4 1138.0,1089.2 1139.3,1089.0 1140.6,1090.2 1141.9,1090.2 1143.2,1090.5 1144.5,1089.3 1145.8,1090.2 1147.1,1090.0 1148.4,1089.1 1149.7,1090.5 1151.0,1089.5 1152.3,1089.2 1153.6,1089.2 1154.9,1090.6 1156.2,1089.3 1157.5,1089.6 1158.8,1089.9 1160.1,1089.5 1161.4,1090.1 1162.7,1089.1 1164.0,1089.7 1165.3,1090.0 1166.6,1090.0 1167.9,1090.0 1169.2,1089.4 1170.5,1090.0 1171.8,1090.6 1173.1,1089.8 1174.4,1090.1 1175.7,1090.4 1177.0,1089.4 1178.3,1089.4 1179.6,1090.6 1180.9,1089.4 1182.2,1089.7 1183.5,1089.6 1184.8,1090.7 1186.1,1089.9 1187.4,1090.5 1188.7,1089.2 1190.0,1089.4 1191.3,1090.1 1192.6,1089.5 1193.9,1090.1 1195.2,1089.8 1196.5,1089.0 1197.8,1089.1 1199.1,1089.7 1200.4,1089.9 1201.7,1089.2 1203.0,1089.4 1204.3,1088.9 1205.6,1089.4 1206.9,1089.5 1208.2,1089.6 1209.5,1090.0 1210.8,1090.4 1212.1,1090.2 1213.4,1090.2 1214.7,1089.4 1216.0,1089.8 1217.3,1090.2 1218.6,1090.5 1219.9,1089.3 1221.2,1088.9 1222.5,1089.0 1223.8,1089.8 1225.1,1090.5 1226.4,1089.2 1227.7,1090.3 1229.0,1090.1 1230.3,1090.5 1231.6,1090.5 1232.9,1089.1 1234.2,1090.3 1235.5,1089.1 1236.8,1089.1 1238.1,1089.6 1239.4,1089.8 1240.7,1089.0 1242.0,1089.4 1243.3,1089.2 1244.6,1089.1 1245.9,1089.1 1247.2,1088.9" fill="none" stroke="#ff0000" stroke-width="3.8" stroke-linejoin="round" stroke-linecap="round"/>
<polyline points="127.0,1090.0 128.3,1090.3 129.6,1090.2 130.9,1090.4 132.2,1090.4 133.5,1089.9 134.8,1089.8 136.1,1090.6 137.4,1090.1 138.7,1090.0 140.0,1090.8 141.3,1090.3 142.6,1090.6 143.9,1090.3 145.2,1090.4 146.5,1089.9 147.8,1090.4 149.1,1090.7 150.4,1090.3 151.7,1090.5 153.0,1090.5 154.3,1089.9 155.6,1090.5 156.9,1090.4 158.2,1090.1 159.5,1089.8 160.8,1090.7 162.1,1090.3 163.4,1090.5 164.7,1090.7 166.0,1090.5 167.3,1090.7 168.6,1090.2 169.9,1090.6 171.2,1090.2 172.5,1090.7 173.8,1090.7 175.1,1089.9 176.4,1089.9 177.7,1090.0 179.0,1090.7 180.3,1090.2 181.6,1090.4 182.9,1090.1 184.2,1090.3 185.5,1090.2 186.8,1090.1 188.1,1090.4 189.4,1090.4 190.7,1090.7 192.0,1090.5 193.3,1090.7 194.6,1090.6 195.9,1090.8 197.2,1090.4 198.5,1089.9 199.8,1090.6 201.1,1090.7 202.4,1090.7 203.7,1090.3 205.0,1090.5 206.3,1090.0 207.6,1090.6 208.9,1090.3 210.2,1090.1 211.5,1089.8 212.8,1090.6 214.1,1090.8 215.4,1089.9 216.7,1090.6 218.0,1090.2 219.3,1089.9 220.6,1090.1 221.9,1090.5 223.2,1090.6 224.5,1089.8 225.8,1090.4 227.1,1089.8 228.4,1090.5 229.7,1090.1 231.0,1090.6 232.3,1090.7 233.6,1090.3 234.9,1090.8 236.2,1090.1 237.5,1089.8 238.8,1090.4 240.1,1089.8 241.4,1090.0 242.7,1090.2 244.0,1090.4 245.3,1089.9 246.6,1089.8 247.9,1090.6 249.2,1090.1 250.5,1090.7 251.8,1090.7 253.1,1090.1 254.4,1090.2 255.7,1090.3 257.0,1090.4 258.3,1090.4 259.6,1090.3 260.9,1090.4 262.2,1090.7 263.5,1090.3 264.8,1090.2 266.1,1090.5 267.4,1090.0 268.7,1090.1 270.0,1090.7 271.3,1090.3 272.6,1090.3 273.9,1089.8 275.2,1090.2 276.5,1090.3 277.8,1089.8 279.1,1090.4 280.4,1090.4 281.7,1089.8 283.0,1090.4 284.3,1090.2 285.6,1090.4 286.9,1090.1 288.2,1090.5 289.5,1090.5 290.8,1089.8 292.1,1089.8 293.4,1090.4 294.7,1090.7 296.0,1090.0 297.3,1090.2 298.6,1090.3 299.9,1090.1 301.2,1090.1 302.5,1090.1 303.8,1090.1 305.1,1090.3 306.4,1090.0 307.7,1090.1 309.0,1090.5 310.3,1089.8 311.6,1090.3 312.9,1090.5 314.2,1090.0 315.5,1090.0 316.8,1090.5 318.1,1090.0 319.4,1089.9 320.7,1090.2 322.0,1090.4 323.3,1089.8 324.6,1090.1 325.9,1090.1 327.2,1090.6 328.5,1090.2 329.8,1090.6 331.1,1089.9 332.4,1090.1 333.7,1090.4 335.0,1090.6 336.3,1090.2 337.6,1090.0 338.9,1089.8 340.2,1090.3 341.5,1089.9 342.8,1090.5 344.1,1090.6 345.4,1089.9 346.7,1090.0 348.0,1090.5 349.3,1090.4 350.6,1090.5 351.9,1090.1 353.2,1089.9 354.5,1090.0 355.8,1090.5 357.1,1090.0 358.4,1090.1 359.7,1090.1 361.0,1090.1 362.3,1090.1 363.6,1090.6 364.9,1089.9 366.2,1089.7 367.5,1090.7 368.8,1090.6 370.1,1090.7 371.4,1090.2 372.7,1090.7 374.0,1090.6 375.3,1089.9 376.6,1090.5 377.9,1090.6 379.2,1090.4 380.5,1090.2 381.8,1090.0 383.1,1090.1 384.4,1089.9 385.7,1089.8 387.0,1090.3 388.3,1090.0 389.6,1090.5 390.9,1089.8 392.2,1090.6 393.5,1090.4 394.8,1090.6 396.1,1090.6 397.4,1090.6 398.7,1090.3 400.0,1089.7 401.3,1090.5 402.6,1089.9 403.9,1090.0 405.2,1090.4 406.5,1090.2 407.8,1090.1 409.1,1090.6 410.4,1090.3 411.7,1090.0 413.0,1090.0 414.3,1090.6 415.6,1090.2 416.9,1090.5 418.2,1090.1 419.5,1089.9 420.8,1090.2 422.1,1090.5 424.1,1090.2 428.1,1081.1 432.2,1051.0 434.0,1000.0 435.8,965.5 437.3,925.6 438.7,898.7 439.9,897.5 441.6,904.5 442.8,895.2 444.0,872.9 446.3,870.0 447.5,883.4 448.7,918.6 449.8,942.1 451.6,947.9 453.3,965.5 454.5,977.2 456.9,980.2 459.2,979.0 461.5,969.0 463.9,958.5 465.7,953.2 466.8,957.3 467.4,971.4 468.3,1000.0 469.3,1020.8 471.4,1046.9 473.4,1053.0 475.4,1076.1 476.0,1076.8 477.3,1078.4 478.6,1079.1 479.9,1078.8 481.2,1075.4 482.5,1076.4 483.8,1077.6 485.1,1076.3 486.4,1077.6 487.7,1078.1 489.0,1077.6 490.3,1079.0 491.6,1080.5 492.9,1080.8 494.2,1082.1 495.5,1081.8 496.5,1083.1 497.0,1082.7 498.3,1082.6 499.6,1083.3 500.9,1083.0 502.2,1083.0 503.5,1083.7 504.8,1084.8 506.1,1084.7 507.4,1084.8 508.7,1084.0 510.0,1084.7 511.3,1084.3 512.6,1084.1 513.9,1084.0 515.2,1084.2 516.5,1085.5 517.8,1085.3 519.1,1085.3 520.4,1085.2 521.7,1084.1 523.0,1084.4 524.3,1084.9 525.6,1085.1 526.9,1085.3 528.2,1085.4 529.5,1084.0 530.8,1084.9 532.1,1085.0 533.4,1084.7 534.7,1084.1 536.0,1084.7 537.3,1084.0 538.6,1085.5 539.9,1085.4 541.2,1084.9 542.5,1084.6 543.8,1085.8 545.1,1085.4 546.4,1086.0 547.7,1086.1 549.0,1085.6 550.3,1085.6 551.6,1086.1 552.9,1085.9 554.2,1085.5 555.5,1085.9 556.8,1086.9 558.1,1085.5 559.4,1085.5 560.7,1086.5 562.0,1085.9 563.3,1086.4 564.6,1086.2 565.9,1086.0 567.2,1087.2 568.5,1085.8 569.8,1086.1 571.1,1085.8 572.4,1086.5 573.7,1085.9 575.0,1086.0 576.3,1086.7 577.6,1086.0 578.9,1086.4 580.2,1087.0 581.5,1085.6 582.8,1085.5 584.1,1085.8 585.4,1086.8 586.7,1086.5 588.0,1085.8 589.3,1085.9 590.6,1085.6 591.9,1086.1 593.2,1085.3 594.5,1086.5 595.8,1086.8 597.1,1086.9 598.4,1086.4 599.7,1086.8 601.0,1085.1 602.3,1085.5 603.6,1086.7 604.9,1086.3 606.2,1085.7 607.5,1086.6 608.8,1086.0 610.1,1086.3 611.4,1085.3 612.7,1085.1 614.0,1085.5 615.3,1084.9 616.6,1085.3 617.9,1086.4 619.2,1085.2 620.5,1084.6 621.8,1084.7 623.1,1084.9 624.4,1086.0 625.7,1085.3 627.0,1085.1 628.3,1084.8 629.6,1086.4 630.9,1085.4 632.2,1085.0 633.5,1084.7 634.8,1084.7 636.1,1084.9 637.4,1085.8 638.7,1084.9 640.0,1084.7 641.3,1085.5 642.6,1085.0 643.9,1086.4 645.2,1084.8 646.5,1085.6 647.8,1086.0 649.1,1085.3 650.4,1086.4 651.7,1085.5 653.0,1085.1 654.3,1085.4 655.6,1084.7 656.9,1085.4 658.2,1085.1 659.5,1086.3 660.8,1086.2 662.1,1085.6 663.4,1084.8 664.7,1085.2 666.0,1085.2 667.3,1085.1 668.6,1085.2 669.9,1086.4 671.2,1085.1 672.5,1084.9 673.8,1086.5 675.1,1085.9 676.4,1086.6 677.7,1085.6 679.0,1086.5 680.3,1086.1 681.6,1086.3 682.9,1086.2 684.2,1085.6 685.5,1084.8 686.8,1085.0 688.1,1086.1 689.4,1086.1 690.7,1086.0 692.0,1084.9 693.3,1085.4 694.6,1085.6 695.9,1085.2 697.2,1085.4 698.5,1084.8 699.8,1085.0 701.1,1085.0 702.4,1084.1 703.7,1085.2 705.0,1085.2 706.3,1083.6 707.6,1085.1 708.9,1085.0 710.2,1084.4 711.5,1083.2 712.8,1084.6 714.1,1083.2 715.4,1084.8 716.7,1084.2 718.0,1083.2 719.3,1083.4 720.6,1084.2 721.9,1084.1 723.2,1084.5 724.5,1084.8 725.8,1083.5 727.1,1083.2 728.4,1084.8 729.7,1083.2 731.0,1084.8 732.3,1083.4 733.6,1084.7 734.9,1084.7 736.2,1084.8 737.5,1084.3 738.8,1084.9 740.1,1083.7 741.4,1084.5 742.7,1083.9 744.0,1084.9 745.3,1084.6 746.6,1084.1 747.9,1084.2 749.2,1083.2 750.5,1083.2 751.8,1084.2 753.1,1084.0 754.4,1084.7 755.7,1084.2 757.0,1083.4 758.3,1083.7 759.6,1084.5 760.9,1084.0 762.2,1083.1 763.5,1084.5 764.8,1084.5 766.1,1083.2 767.4,1084.0 768.7,1083.7 770.0,1084.4 771.3,1083.5 772.6,1083.3 773.9,1083.8 775.2,1084.6 776.5,1083.0 777.8,1083.1 779.1,1083.9 780.4,1084.4 781.7,1083.7 783.0,1083.6 784.3,1084.3 785.6,1084.1 786.9,1082.8 788.2,1084.3 789.5,1083.0 790.8,1083.2 792.1,1084.1 793.4,1083.4 794.7,1084.0 796.0,1082.9 797.3,1084.1 798.6,1082.9 799.9,1082.8 801.2,1083.4 802.5,1083.1 803.8,1083.5 805.1,1084.1 806.4,1083.7 807.7,1082.4 809.0,1083.0 810.3,1083.4 811.6,1083.2 812.9,1083.6 814.2,1083.2 815.5,1082.4 816.8,1082.7 818.1,1083.8 819.4,1082.9 820.7,1083.6 822.0,1084.0 823.3,1083.3 824.6,1083.5 825.9,1083.5 827.2,1083.1 828.5,1084.3 829.8,1083.6 831.1,1084.5 832.4,1083.6 833.7,1084.7 835.0,1084.7 836.3,1084.5 837.6,1084.3 838.9,1083.9 840.2,1085.1 841.5,1084.5 842.8,1085.1 844.1,1084.3 845.4,1084.3 846.7,1084.6 848.0,1085.9 849.3,1084.9 850.6,1086.3 851.9,1085.4 853.2,1085.8 854.5,1085.5 855.8,1086.0 857.1,1085.1 858.4,1085.7 859.7,1086.8 861.0,1085.5 862.3,1086.4 863.6,1085.9 864.9,1085.9 866.2,1085.4 867.5,1085.5 868.8,1087.2 870.1,1087.1 871.4,1087.1 872.7,1087.2 874.0,1087.5 875.3,1086.1 876.6,1086.9 877.9,1086.9 879.2,1087.1 880.5,1087.8 881.8,1087.5 883.1,1088.0 884.4,1086.5 885.7,1087.5 887.0,1087.6 888.3,1087.8 889.6,1087.6 890.9,1088.1 892.2,1087.2 893.5,1088.4 894.8,1087.5 896.1,1087.9 897.4,1088.5 898.7,1088.2 900.0,1087.6 901.3,1087.5 902.6,1087.7 903.9,1088.3 905.2,1089.0 906.5,1088.8 907.8,1088.0 909.1,1088.0 910.4,1088.8 911.7,1087.9 913.0,1088.2 914.3,1087.5 915.6,1087.9 916.9,1088.5 918.2,1088.9 919.5,1088.8 920.8,1088.4 922.1,1089.5 923.4,1088.9 924.7,1088.1 926.0,1088.0 927.3,1089.7 928.6,1089.7 929.9,1089.7 931.2,1089.1 932.5,1088.7 933.8,1088.3 935.1,1088.6 936.4,1088.6 937.7,1089.9 939.0,1089.9 940.3,1089.8 941.6,1088.7 942.9,1088.9 944.2,1089.0 945.5,1090.2 946.8,1088.8 948.1,1089.9 949.4,1089.8 950.7,1089.5 952.0,1090.3 953.3,1089.0 954.6,1089.5 955.9,1088.9 957.2,1088.8 958.5,1088.7 959.8,1089.2 961.1,1088.8 962.4,1088.7 963.7,1090.4 965.0,1089.2 966.3,1090.2 967.6,1089.9 968.9,1090.0 970.2,1089.8 971.5,1090.4 972.8,1090.3 974.1,1090.0 975.4,1089.7 976.7,1090.0 978.0,1090.0 979.3,1089.7 980.6,1089.6 981.9,1089.0 983.2,1090.3 984.5,1089.6 985.8,1088.9 987.1,1089.1 988.4,1090.4 989.7,1089.3 991.0,1089.5 992.3,1090.0 993.6,1090.4 994.9,1089.4 996.2,1089.5 997.5,1089.6 998.8,1088.9 1000.1,1090.4 1001.4,1088.9 1002.7,1090.6 1004.0,1089.2 1005.3,1089.2 1006.6,1090.4 1007.9,1090.4 1009.2,1089.3 1010.5,1089.9 1011.8,1089.8 1013.1,1090.2 1014.4,1089.3 1015.7,1090.5 1017.0,1090.8 1018.3,1090.3 1019.6,1090.7 1020.9,1090.7 1022.2,1089.7 1023.5,1090.5 1024.8,1090.5 1026.1,1090.1 1027.4,1089.2 1028.7,1090.2 1030.0,1090.7 1031.3,1089.6 1032.6,1090.2 1033.9,1090.7 1035.2,1090.2 1036.5,1089.2 1037.8,1090.3 1039.1,1089.6 1040.4,1090.7 1041.7,1090.3 1043.0,1089.7 1044.3,1090.8 1045.6,1090.3 1046.9,1089.8 1048.2,1090.7 1049.5,1090.8 1050.8,1090.8 1052.1,1090.8 1053.4,1090.4 1054.7,1090.5 1056.0,1090.3 1057.3,1090.1 1058.6,1091.0 1059.9,1089.8 1061.2,1089.3 1062.5,1090.5 1063.8,1090.1 1065.1,1090.2 1066.4,1090.3 1067.7,1089.6 1069.0,1089.6 1070.3,1089.3 1071.6,1090.6 1072.9,1090.8 1074.2,1090.5 1075.5,1089.4 1076.8,1091.0 1078.1,1090.7 1079.4,1090.1 1080.7,1089.2 1082.0,1090.7 1083.3,1090.3 1084.6,1090.3 1085.9,1089.2 1087.2,1090.5 1088.5,1089.3 1089.8,1090.1 1091.1,1089.5 1092.4,1089.8 1093.7,1090.8 1095.0,1090.5 1096.3,1090.7 1097.6,1089.7 1098.9,1089.9 1100.2,1090.3 1101.5,1089.3 1102.8,1089.9 1104.1,1091.0 1105.4,1090.6 1106.7,1090.8 1108.0,1089.7 1109.3,1090.4 1110.6,1090.6 1111.9,1090.5 1113.2,1090.0 1114.5,1089.5 1115.8,1089.2 1117.1,1090.8 1118.4,1090.9 1119.7,1089.7 1121.0,1090.6 1122.3,1089.9 1123.6,1090.3 1124.9,1090.7 1126.2,1089.8 1127.5,1090.3 1128.8,1089.7 1130.1,1090.1 1131.4,1089.3 1132.7,1089.7 1134.0,1089.7 1135.3,1090.8 1136.6,1089.4 1137.9,1090.6 1139.2,1089.4 1140.5,1091.0 1141.8,1089.5 1143.1,1089.4 1144.4,1089.6 1145.7,1090.9 1147.0,1090.4 1148.3,1090.8 1149.6,1090.1 1150.9,1089.4 1152.2,1089.8 1153.5,1090.0 1154.8,1091.0 1156.1,1089.5 1157.4,1089.6 1158.7,1090.7 1160.0,1089.4 1161.3,1090.9 1162.6,1089.7 1163.9,1090.2 1165.2,1090.4 1166.5,1090.8 1167.8,1089.3 1169.1,1090.7 1170.4,1089.5 1171.7,1090.5 1173.0,1089.2 1174.3,1090.6 1175.6,1089.5 1176.9,1089.6 1178.2,1089.3 1179.5,1089.8 1180.8,1089.8 1182.1,1091.0 1183.4,1090.3 1184.7,1089.9 1186.0,1091.0 1187.3,1089.5 1188.6,1089.6 1189.9,1090.9 1191.2,1090.9 1192.5,1090.4 1193.8,1091.0 1195.1,1089.3 1196.4,1090.8 1197.7,1090.5 1199.0,1090.4 1200.3,1090.7 1201.6,1089.4 1202.9,1089.6 1204.2,1089.4 1205.5,1090.1 1206.8,1090.2 1208.1,1090.2 1209.4,1089.9 1210.7,1090.5 1212.0,1090.7 1213.3,1090.6 1214.6,1089.3 1215.9,1089.5 1217.2,1089.6 1218.5,1089.6 1219.8,1090.2 1221.1,1089.6 1222.4,1090.3 1223.7,1089.8 1225.0,1089.9 1226.3,1090.5 1227.6,1090.9 1228.9,1089.5 1230.2,1089.8 1231.5,1091.0 1232.8,1089.6 1234.1,1089.2 1235.4,1089.5 1236.7,1090.7 1238.0,1090.5 1239.3,1090.9 1240.6,1090.1 1241.9,1089.3 1243.2,1089.8 1244.5,1090.5 1245.8,1089.9 1247.1,1089.5" fill="none" stroke="#00c800" stroke-width="3.8" stroke-linejoin="round" stroke-linecap="round"/>
<line x1="463.3" y1="50.05" x2="463.3" y2="1092" stroke="#262626" stroke-width="3.4" stroke-dasharray="3.5 10.655"/>
<line x1="541.3" y1="53.35" x2="541.3" y2="1092" stroke="#262626" stroke-width="3.4" stroke-dasharray="3.5 10.65"/>
<rect x="126" y="42.5" width="1123" height="1050.0" fill="none" stroke="#000" stroke-width="2"/>
<line x1="126" y1="315.3" x2="1249" y2="315.3" stroke="#000" stroke-width="2"/>
<line x1="126" y1="587.8" x2="1249" y2="587.8" stroke="#000" stroke-width="2"/>
<line x1="126" y1="860.5" x2="1249" y2="860.5" stroke="#000" stroke-width="2"/>
<line x1="126" y1="97.3" x2="144" y2="97.3" stroke="#000" stroke-width="1.8"/>
<line x1="126" y1="152" x2="137" y2="152" stroke="#000" stroke-width="1.8"/>
<line x1="126" y1="206.3" x2="144" y2="206.3" stroke="#000" stroke-width="1.8"/>
<line x1="126" y1="261" x2="137" y2="261" stroke="#000" stroke-width="1.8"/>
<line x1="126" y1="354.2" x2="144" y2="354.2" stroke="#000" stroke-width="1.8"/>
<line x1="126" y1="393.3" x2="137" y2="393.3" stroke="#000" stroke-width="1.8"/>
<line x1="126" y1="432.2" x2="144" y2="432.2" stroke="#000" stroke-width="1.8"/>
<line x1="126" y1="470.7" x2="137" y2="470.7" stroke="#000" stroke-width="1.8"/>
<line x1="126" y1="509" x2="144" y2="509" stroke="#000" stroke-width="1.8"/>
<line x1="126" y1="548.4" x2="137" y2="548.4" stroke="#000" stroke-width="1.8"/>
<line x1="126" y1="600.1" x2="144" y2="600.1" stroke="#000" stroke-width="1.8"/>
<line x1="126" y1="662.2" x2="144" y2="662.2" stroke="#000" stroke-width="1.8"/>
<line x1="126" y1="724" x2="144" y2="724" stroke="#000" stroke-width="1.8"/>
<line x1="126" y1="786" x2="144" y2="786" stroke="#000" stroke-width="1.8"/>
<line x1="126" y1="848.2" x2="144" y2="848.2" stroke="#000" stroke-width="1.8"/>
<line x1="126" y1="893.6" x2="144" y2="893.6" stroke="#000" stroke-width="1.8"/>
<line x1="126" y1="943.6" x2="137" y2="943.6" stroke="#000" stroke-width="1.8"/>
<line x1="126" y1="992.8" x2="144" y2="992.8" stroke="#000" stroke-width="1.8"/>
<line x1="126" y1="1043" x2="137" y2="1043" stroke="#000" stroke-width="1.8"/>
<line x1="126" y1="315.4" x2="149" y2="315.4" stroke="#000" stroke-width="2.6"/>
<line x1="1227" y1="724.2" x2="1249" y2="724.2" stroke="#000" stroke-width="1.8"/>
<line x1="266.3" y1="1074.6" x2="266.3" y2="1092.5" stroke="#000" stroke-width="1.8"/>
<line x1="406.6" y1="1082" x2="406.6" y2="1092.5" stroke="#000" stroke-width="1.8"/>
<line x1="547.0" y1="1074.6" x2="547.0" y2="1092.5" stroke="#000" stroke-width="1.8"/>
<line x1="687.4" y1="1082" x2="687.4" y2="1092.5" stroke="#000" stroke-width="1.8"/>
<line x1="827.8" y1="1074.6" x2="827.8" y2="1092.5" stroke="#000" stroke-width="1.8"/>
<line x1="968.1" y1="1082" x2="968.1" y2="1092.5" stroke="#000" stroke-width="1.8"/>
<line x1="1108.5" y1="1074.6" x2="1108.5" y2="1092.5" stroke="#000" stroke-width="1.8"/>
<text x="126.10" y="28.7" font-size="39.8" fill="#2a2826" text-anchor="start">JET</text>
<text x="550.90" y="28.8" font-size="39.8" fill="#2a2826" text-anchor="start">SPI experiment: post-disruptive plasma</text>
<text x="1193.50" y="87.8" font-size="40.5" fill="#2a2826" text-anchor="start">(a)</text>
<text x="1193.50" y="360.7" font-size="40.5" fill="#2a2826" text-anchor="start">(b)</text>
<text x="1193.50" y="633.6" font-size="40.5" fill="#2a2826" text-anchor="start">(c)</text>
<text x="1193.50" y="906.8" font-size="40.5" fill="#2a2826" text-anchor="start">(d)</text>
<line x1="752" y1="68.8" x2="830.4" y2="68.8" stroke="#0000ff" stroke-width="3.7"/>
<line x1="752" y1="120" x2="830.4" y2="120" stroke="#ff0000" stroke-width="3.7"/>
<line x1="866.5" y1="172" x2="943" y2="172" stroke="#00c800" stroke-width="3.7"/>
<text x="859.20" y="80.2" font-size="35" fill="#0000ff" xml:space="preserve"># 95</text><path transform="translate(927.32,80.2) scale(0.03500,-0.03500)" d="M 373 0 L 285 0 L 285 560 C 264 540 236 520 201 499 C 166 478 135 463 108 453 L 108 538 C 157 561 199 589 236 621 C 273 653 299 685 314 716 L 373 716 Z" fill="#0000ff"/><text x="946.79" y="80.2" font-size="35" fill="#0000ff" xml:space="preserve">45 MGI only</text>
<text x="858.30" y="131.2" font-size="35" fill="#ff0000" xml:space="preserve"># 95</text><path transform="translate(926.42,131.2) scale(0.03500,-0.03500)" d="M 373 0 L 285 0 L 285 560 C 264 540 236 520 201 499 C 166 478 135 463 108 453 L 108 538 C 157 561 199 589 236 621 C 273 653 299 685 314 716 L 373 716 Z" fill="#ff0000"/><text x="945.89" y="131.2" font-size="35" fill="#ff0000" xml:space="preserve">48 MGI + SPI</text>
<text x="971.60" y="182.8" font-size="35" fill="#00c800" xml:space="preserve"># 95</text><path transform="translate(1039.72,182.8) scale(0.03500,-0.03500)" d="M 373 0 L 285 0 L 285 560 C 264 540 236 520 201 499 C 166 478 135 463 108 453 L 108 538 C 157 561 199 589 236 621 C 273 653 299 685 314 716 L 373 716 Z" fill="#00c800"/><text x="1059.19" y="182.8" font-size="35" fill="#00c800" xml:space="preserve">49 SPI only</text>
<text x="107.80" y="108.9" font-size="40.5" fill="#000" text-anchor="end">2</text>
<path transform="translate(85.28,217.7) scale(0.04050,-0.04050)" d="M 373 0 L 285 0 L 285 560 C 264 540 236 520 201 499 C 166 478 135 463 108 453 L 108 538 C 157 561 199 589 236 621 C 273 653 299 685 314 716 L 373 716 Z" fill="#000"/>
<text x="107.80" y="319.9" font-size="40.5" fill="#000" text-anchor="end">0</text>
<path transform="translate(51.50,363.9) scale(0.04050,-0.04050)" d="M 373 0 L 285 0 L 285 560 C 264 540 236 520 201 499 C 166 478 135 463 108 453 L 108 538 C 157 561 199 589 236 621 C 273 653 299 685 314 716 L 373 716 Z" fill="#000"/><text x="74.02" y="363.9" font-size="40.5" fill="#000" xml:space="preserve">.2</text>
<text x="107.80" y="441.9" font-size="40.5" fill="#000" text-anchor="end">0.8</text>
<text x="107.80" y="519.3" font-size="40.5" fill="#000" text-anchor="end">0.4</text>
<text x="107.80" y="587.4" font-size="40.5" fill="#000" text-anchor="end">0</text>
<text x="107.80" y="675.4" font-size="40.5" fill="#000" text-anchor="end">5</text>
<text x="107.80" y="738.2" font-size="40.5" fill="#000" text-anchor="end">0</text>
<text x="107.80" y="800.5" font-size="40.5" fill="#000" text-anchor="end">-5</text>
<text x="107.80" y="913.4" font-size="40.5" fill="#000" text-anchor="end">2</text>
<path transform="translate(85.28,1007.6) scale(0.04050,-0.04050)" d="M 373 0 L 285 0 L 285 560 C 264 540 236 520 201 499 C 166 478 135 463 108 453 L 108 538 C 157 561 199 589 236 621 C 273 653 299 685 314 716 L 373 716 Z" fill="#000"/>
<text x="107.80" y="1105.7" font-size="40.5" fill="#000" text-anchor="end">0</text>
<text x="281.00" y="1132" font-size="40.5" fill="#000" text-anchor="middle">24.02</text>
<text x="561.70" y="1132" font-size="40.5" fill="#000" text-anchor="middle">24.04</text>
<text x="842.50" y="1132" font-size="40.5" fill="#000" text-anchor="middle">24.06</text>
<text x="1123.20" y="1132" font-size="40.5" fill="#000" text-anchor="middle">24.08</text>
<text x="638.10" y="1185.6" font-size="40.5" fill="#2a2826" text-anchor="start">Time (s)</text>
<text transform="translate(28.9,253.3) rotate(-90)" font-size="40.5" fill="#000">I<tspan font-size="20" dy="8">p</tspan><tspan dy="-8"> (MA)</tspan></text>
<text transform="translate(31,487.7) rotate(-90)" font-size="40.5" fill="#000">Z<tspan font-size="19.5" dy="7.5">c</tspan><tspan dy="-7.5"> (m)</tspan></text>
<text transform="translate(35,738.9) rotate(-90)" font-size="40.5" fill="#000">V</text>
<text transform="translate(35.2,1056.9) rotate(-90)" font-size="40.5" fill="#000">arb. unit</text>
<text transform="translate(1269.9,1078.8) rotate(-90)" font-size="20" fill="#2a2826">CPS22.028-23c</text>
<text x="631.20" y="653.7" font-size="39.6" fill="#000" text-anchor="start">Mirnov</text>
<text x="762.80" y="653.7" font-size="35" fill="#000" xml:space="preserve">(DA/C</text><path transform="translate(858.08,653.7) scale(0.03500,-0.03500)" d="M 373 0 L 285 0 L 285 560 C 264 540 236 520 201 499 C 166 478 135 463 108 453 L 108 538 C 157 561 199 589 236 621 C 273 653 299 685 314 716 L 373 716 Z" fill="#000"/><text x="877.54" y="653.7" font-size="35" fill="#000" xml:space="preserve">M-T00</text><path transform="translate(978.66,653.7) scale(0.03500,-0.03500)" d="M 373 0 L 285 0 L 285 560 C 264 540 236 520 201 499 C 166 478 135 463 108 453 L 108 538 C 157 561 199 589 236 621 C 273 653 299 685 314 716 L 373 716 Z" fill="#000"/><text x="998.13" y="653.7" font-size="35" fill="#000" xml:space="preserve">)</text>
<text x="601.60" y="781.9" font-size="35" fill="#2a2826" text-anchor="start">minor</text>
<text x="601.70" y="820.6" font-size="35" fill="#2a2826" text-anchor="start">disruption</text>
<path d="M584.7,809.6 C545,792 505,772 482,729" fill="none" stroke="#2a2826" stroke-width="2.2"/>
<polygon points="477.6,721.5 477.6,734.4 489.1,728.5" fill="#2a2826"/>
<text x="158.00" y="907.9" font-size="30" fill="#000" text-anchor="start">pellet C</text>
<text x="157.60" y="941.6" font-size="30" fill="#000" text-anchor="start">Ne/(Ne+D) = 0.60</text>
<text x="157.60" y="975" font-size="30" fill="#000" xml:space="preserve">Ne = 3.</text><path transform="translate(255.16,975) scale(0.03000,-0.03000)" d="M 373 0 L 285 0 L 285 560 C 264 540 236 520 201 499 C 166 478 135 463 108 453 L 108 538 C 157 561 199 589 236 621 C 273 653 299 685 314 716 L 373 716 Z" fill="#000"/><text x="271.84" y="975" font-size="30" fill="#000" xml:space="preserve">·</text><path transform="translate(281.83,975) scale(0.03000,-0.03000)" d="M 373 0 L 285 0 L 285 560 C 264 540 236 520 201 499 C 166 478 135 463 108 453 L 108 538 C 157 561 199 589 236 621 C 273 653 299 685 314 716 L 373 716 Z" fill="#000"/><text x="298.52" y="975" font-size="30" fill="#000" xml:space="preserve">0</text>
<text x="313.30" y="960.1" font-size="15.5" fill="#000" xml:space="preserve">2</text><path transform="translate(321.92,960.1) scale(0.01550,-0.01550)" d="M 373 0 L 285 0 L 285 560 C 264 540 236 520 201 499 C 166 478 135 463 108 453 L 108 538 C 157 561 199 589 236 621 C 273 653 299 685 314 716 L 373 716 Z" fill="#000"/>
<text x="338.50" y="975" font-size="30" fill="#000" text-anchor="start">atoms</text>
<text x="632.00" y="912.7" font-size="35" fill="#2a2826" text-anchor="start">Fast Visible</text>
<text x="632.00" y="957.9" font-size="35" fill="#2a2826" text-anchor="start">Camera (KL8)</text>
<text x="632.20" y="1002.2" font-size="34.4" fill="#2a2826" text-anchor="start">Sum intensity, Ne I</text>
</svg></body></html>
